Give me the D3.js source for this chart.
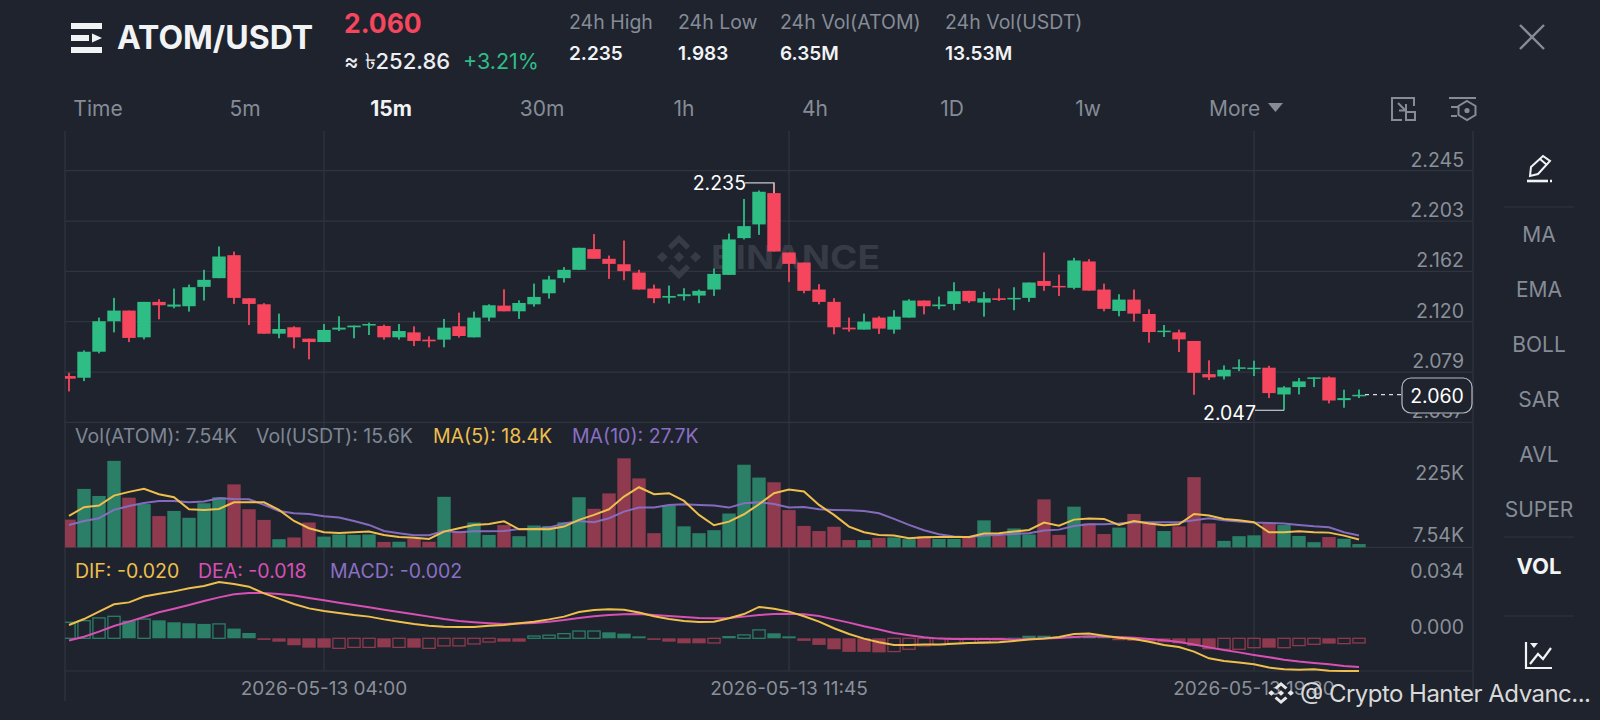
<!DOCTYPE html>
<html><head><meta charset="utf-8">
<script src="https://cdn.jsdelivr.net/npm/d3@7"></script>
<style>html,body{margin:0;padding:0;background:#1e232d;overflow:hidden}svg{display:block}text{font-family:Inter,"Noto Sans",sans-serif}</style>
</head><body><svg id="c" width="1600" height="720"></svg>
<script>
// ---------- data ----------
const opens=[2.0753,2.0739,2.0954,2.1206,2.1294,2.1073,2.1366,2.1327,2.1330,2.1490,2.1562,2.1752,2.1396,2.1346,2.1103,2.1156,2.1062,2.1034,2.1137,2.1156,2.1172,2.1167,2.1073,2.1114,2.1054,2.1054,2.1164,2.1073,2.1236,2.1335,2.1288,2.1346,2.1437,2.1562,2.1631,2.1802,2.1722,2.1677,2.1608,2.1476,2.1401,2.1413,2.1418,2.1468,2.1589,2.1893,2.2006,2.2265,2.1774,2.1691,2.1468,2.1366,2.1153,2.1137,2.1236,2.1137,2.1236,2.1377,2.1330,2.1349,2.1457,2.1360,2.1396,2.1388,2.1399,2.1539,2.1498,2.1482,2.1700,2.1468,2.1291,2.1385,2.1266,2.1120,2.1114,2.1043,2.0769,2.0750,2.0816,2.0814,2.0822,2.0601,2.0662,2.0737,2.0742,2.0554,2.0590];
const highs=[2.0780,2.0965,2.1236,2.1399,2.1294,2.1366,2.1388,2.1476,2.1509,2.1631,2.1824,2.1782,2.1396,2.1355,2.1269,2.1164,2.1062,2.1183,2.1247,2.1170,2.1194,2.1178,2.1183,2.1164,2.1081,2.1225,2.1277,2.1286,2.1346,2.1470,2.1379,2.1517,2.1581,2.1653,2.1813,2.1926,2.1749,2.1873,2.1631,2.1509,2.1501,2.1479,2.1468,2.1642,2.1931,2.2216,2.2287,2.2350,2.1774,2.1691,2.1512,2.1396,2.1236,2.1269,2.1247,2.1297,2.1388,2.1377,2.1410,2.1528,2.1457,2.1448,2.1476,2.1487,2.1526,2.1774,2.1592,2.1730,2.1719,2.1517,2.1429,2.1468,2.1305,2.1175,2.1137,2.1043,2.0883,2.0841,2.0891,2.0880,2.0838,2.0670,2.0737,2.0742,2.0750,2.0640,2.0642];
const lows=[2.0626,2.0711,2.0941,2.1114,2.1034,2.1056,2.1222,2.1313,2.1286,2.1377,2.1562,2.1349,2.1175,2.1103,2.1065,2.0982,2.0891,2.1034,2.1125,2.1065,2.1092,2.1054,2.1054,2.1001,2.0990,2.0990,2.1070,2.1073,2.1206,2.1288,2.1225,2.1327,2.1393,2.1526,2.1631,2.1722,2.1556,2.1545,2.1468,2.1355,2.1352,2.1377,2.1355,2.1415,2.1589,2.1882,2.1920,2.1782,2.1531,2.1437,2.1346,2.1098,2.1120,2.1137,2.1101,2.1103,2.1236,2.1263,2.1305,2.1297,2.1357,2.1244,2.1374,2.1297,2.1366,2.1457,2.1415,2.1470,2.1459,2.1288,2.1247,2.1203,2.1029,2.1076,2.0952,2.0598,2.0720,2.0725,2.0794,2.0753,2.0571,2.0470,2.0601,2.0662,2.0527,2.0491,2.0571];
const closes=[2.0731,2.0954,2.1206,2.1294,2.1068,2.1366,2.1338,2.1344,2.1487,2.1548,2.1741,2.1399,2.1349,2.1103,2.1142,2.1073,2.1034,2.1134,2.1153,2.1170,2.1183,2.1073,2.1125,2.1043,2.1040,2.1153,2.1084,2.1236,2.1338,2.1288,2.1357,2.1407,2.1551,2.1631,2.1813,2.1722,2.1680,2.1620,2.1468,2.1396,2.1415,2.1429,2.1457,2.1597,2.1882,2.1992,2.2276,2.1782,2.1680,2.1457,2.1366,2.1156,2.1139,2.1203,2.1145,2.1244,2.1377,2.1330,2.1344,2.1454,2.1371,2.1396,2.1382,2.1399,2.1526,2.1498,2.1487,2.1708,2.1459,2.1308,2.1385,2.1269,2.1117,2.1128,2.1056,2.0780,2.0742,2.0805,2.0825,2.0822,2.0612,2.0659,2.0709,2.0742,2.0551,2.0571,2.0598];
const volumes=[64.7,136.5,120,202,116,101,73,85,69,103,117,147,89,64,19,23,58,25,30,29,30,12.5,13,19.5,13,118,37,58,29,52,26,51,50,58.5,117,90,126,208,161,33,97.5,49,33,40,79,193,163,152,87,50,38,48,17,17,22,23,19,26,19.5,19.5,23,63,26.5,44,30,112,29,95,56,31,46,78,58.5,38,49,164,56,15,26,28,56,52,26.5,12,24,20,7.54];
const ma5=[73.3,93.6,97.5,120.9,129.5,136.5,124,117,88.9,87.4,89.7,105.3,105.3,105.3,87.4,61.6,44.5,35.1,33.5,35.1,36.7,28.9,24.2,22.6,19.5,36.7,44.5,52.3,54.6,60.8,42.1,42.9,42.1,48.4,64,75.7,88.9,118.6,140.4,124,126.4,108.4,75.7,51.5,60,77.2,100.6,126.4,134.9,130.3,99.1,75.7,48.4,35.1,28.9,27.3,21.1,23.4,24.2,24.2,24.2,32,32.8,36.7,40.6,57.7,50.7,64.7,67.1,66.3,52.3,61.6,55.4,51.5,53.8,78,74.1,66.3,63.2,58.5,35.1,35.1,37.4,35.1,34.3,27.3,18.4];
const ma10=[52.3,61.6,67.9,87.4,96.7,103.7,108.4,108.4,105.3,106.9,114.7,113.1,112.3,99.1,85,79.6,78,72.5,69.4,61.6,52.3,38.2,32.8,28.1,28.1,38.2,35.1,37.4,37.4,38.2,42.9,42.9,46,55.4,61.6,58.5,67.9,83.5,92.8,92.8,99.1,100.6,99.1,97.5,92.8,103,105.3,101.4,92.8,94.4,88.9,87.4,86.6,85,79.6,66.3,52.3,39.8,30.4,25,23.4,27.3,28.9,31.2,32.8,39,41.3,49.9,53.8,53.8,55.4,58.5,58.5,58.5,58.5,63.2,67.9,63.2,60,57.7,56.9,55.4,52.3,49.1,46.8,35.1,27.7];
const dif=[.0082,.0119,.0165,.0210,.0222,.0258,.0276,.0290,.0309,.0323,.0348,.0336,.0319,.0278,.0245,.0212,.0185,.0169,.0157,.0144,.0134,.0117,.0103,.0089,.0078,.0072,.0070,.0070,.0078,.0082,.0093,.0103,.0117,.0134,.0163,.0175,.0179,.0177,.0159,.0136,.0119,.0107,.0101,.0103,.0124,.0150,.0194,.0183,.0165,.0136,.0103,.0062,.0027,-.0002,-.0025,-.0041,-.0041,-.0039,-.0039,-.0033,-.0029,-.0027,-.0025,-.0016,-.0008,-.0002,.0008,.0027,.0029,.0016,.0004,-.0004,-.0021,-.0041,-.0054,-.0082,-.0124,-.0140,-.0150,-.0161,-.0181,-.0192,-.0194,-.0192,-.0200,-.0202,-.0202];
const dea=[-.0014,.0010,.0041,.0076,.0103,.0132,.0161,.0183,.0206,.0231,.0253,.0272,.0280,.0280,.0274,.0264,.0249,.0235,.0220,.0206,.0192,.0177,.0163,.0148,.0134,.0119,.0107,.0099,.0093,.0089,.0091,.0095,.0103,.0113,.0126,.0136,.0144,.0148,.0150,.0144,.0138,.0132,.0126,.0124,.0126,.0134,.0144,.0150,.0152,.0148,.0138,.0117,.0097,.0074,.0054,.0033,.0019,.0006,-.0002,-.0004,-.0004,-.0004,-.0004,-.0008,-.0004,-.0002,.0002,.0008,.0012,.0010,.0008,.0004,-.0004,-.0012,-.0023,-.0039,-.0056,-.0072,-.0087,-.0103,-.0117,-.0132,-.0144,-.0152,-.0161,-.0171,-.0177];
const macdHist=[.0099,.0109,.0126,.0136,.0109,.0119,.0111,.0099,.0093,.0089,.0089,.0060,.0033,-.0010,-.0021,-.0043,-.0058,-.0058,-.0062,-.0056,-.0056,-.0056,-.0056,-.0058,-.0062,-.0047,-.0047,-.0035,-.0023,-.0021,-.0021,.0014,.0019,.0029,.0045,.0045,.0037,.0029,.0012,-.0010,-.0021,-.0031,-.0031,-.0029,.0014,.0021,.0052,.0031,.0012,-.0016,-.0041,-.0068,-.0084,-.0084,-.0087,-.0082,-.0068,-.0047,-.0041,-.0031,-.0027,-.0021,-.0010,.0004,.0016,.0016,.0010,.0012,.0012,.0006,-.0012,-.0016,-.0021,-.0025,-.0031,-.0047,-.0068,-.0068,-.0068,-.0058,-.0058,-.0058,-.0045,-.0037,-.0033,-.0033,-.0029];
const histHollow=[0,1,2,3,5,10,18,19,20,22,24,25,26,27,28,31,32,33,34,35,43,45,46,55,56,57,58,59,60,61,62,77,78,79,81,82,83,85,86];
const priceTicks=[2.245,2.2034,2.1618,2.1202,2.0786,2.037];
const timeTicks=[{i:17,label:"2026-05-13 04:00"},{i:48,label:"2026-05-13 11:45"},{i:79,label:"2026-05-13 19:30"}];
const stats=[["24h High","2.235",569],["24h Low","1.983",678],["24h Vol(ATOM)","6.35M",780],["24h Vol(USDT)","13.53M",945]];
const tabs=[["Time",98],["5m",245],["15m",391],["30m",542],["1h",684],["4h",815],["1D",952],["1w",1088]];
const sideItems=[["MA",235],["EMA",290],["BOLL",345],["SAR",400],["AVL",455],["SUPER",510]];
const lastPrice=2.060;

// ---------- palette ----------
const BG="#1e232d",GRID="#2f343e",UP="#2ebd85",DOWN="#f6465d",VUP="#2a7f66",VDOWN="#8f3a4e",GREY="#868c97",AXIS="#8b9099",MA5="#efbf4d",MA10="#8a6fc4",PINK="#d850b4";

const svg=d3.select("#c");
svg.append("rect").attr("width",1600).attr("height",720).attr("fill",BG);
const defs=svg.append("defs");
defs.append("clipPath").attr("id","plot").append("rect").attr("x",65).attr("y",130).attr("width",1408).attr("height",545);

// ---------- scales ----------
const idx=d3.range(closes.length);
const x=d3.scaleLinear().domain([0,86]).range([69,1359]);
const y=d3.scaleLinear().domain([2.037,2.245]).range([422.4,170.7]);
const yVol=d3.scaleLinear().domain([0,208]).range([547.3,458.3]);
const yMacd=d3.scaleLinear().domain([0,0.034]).range([638.3,583.3]);
const bw=13.4;

// ---------- grid ----------
const grid=svg.append("g").attr("stroke",GRID).attr("stroke-width",1.2);
priceTicks.forEach(t=>grid.append("line").attr("x1",65).attr("x2",1473).attr("y1",y(t)).attr("y2",y(t)));
[yVol(0),671].forEach(v=>grid.append("line").attr("x1",65).attr("x2",1473).attr("y1",v).attr("y2",v));
timeTicks.forEach(t=>grid.append("line").attr("x1",x(t.i)).attr("x2",x(t.i)).attr("y1",131).attr("y2",671));
[65,1473].forEach(v=>grid.append("line").attr("x1",v).attr("x2",v).attr("y1",131).attr("y2",701));

// ---------- logo ----------
function logo(g,cx,cy,s,fill,sy){
  const n=g.append("g").attr("transform",`translate(${cx},${cy}) scale(${s},${sy||s})`).attr("fill",fill);
  n.append("path").attr("d","M0,-4.2L4.2,0L0,4.2L-4.2,0Z");
  n.append("path").attr("d","M-13,-4.2L-8.8,0L-13,4.2L-17.5,0Z");
  n.append("path").attr("d","M13,-4.2L8.8,0L13,4.2L17.5,0Z");
  n.append("path").attr("d","M0,-17.5L8.8,-8.7L5.8,-5.7L0,-11.5L-5.8,-5.7L-8.8,-8.7Z");
  n.append("path").attr("d","M0,17.5L8.8,8.7L5.8,5.7L0,11.5L-5.8,5.7L-8.8,8.7Z");
}
logo(svg,679,257,1.27,"#363b46");
svg.append("text").attr("x",711).attr("y",269).attr("font-size",33).attr("font-weight",700).attr("fill","#363b46").attr("textLength",169).attr("lengthAdjust","spacingAndGlyphs").text("BINANCE");

const plot=svg.append("g").attr("clip-path","url(#plot)");

// ---------- volume ----------
plot.append("g").selectAll("rect").data(idx).join("rect")
 .attr("x",i=>x(i)-bw/2).attr("width",bw)
 .attr("y",i=>yVol(volumes[i])).attr("height",i=>yVol(0)-yVol(volumes[i]))
 .attr("fill",i=>closes[i]>=opens[i]?VUP:VDOWN);
const line=(sc)=>d3.line().x((d,i)=>x(i)).y(d=>sc(d)).curve(d3.curveLinear);
plot.append("path").attr("d",line(yVol)(ma10)).attr("fill","none").attr("stroke",MA10).attr("stroke-width",2).attr("stroke-opacity",.95);
plot.append("path").attr("d",line(yVol)(ma5)).attr("fill","none").attr("stroke",MA5).attr("stroke-width",2);

// ---------- MACD ----------
plot.append("g").selectAll("rect").data(idx).join("rect")
 .attr("x",i=>x(i)-bw/2+(histHollow.includes(i)?.6:0))
 .attr("width",i=>bw-(histHollow.includes(i)?1.2:0))
 .attr("y",i=>Math.min(yMacd(macdHist[i]),yMacd(0)))
 .attr("height",i=>Math.abs(yMacd(macdHist[i])-yMacd(0)))
 .attr("fill",i=>histHollow.includes(i)?"none":(macdHist[i]>=0?VUP:VDOWN))
 .attr("stroke",i=>histHollow.includes(i)?(macdHist[i]>=0?VUP:VDOWN):"none")
 .attr("stroke-width",1.3);
plot.append("path").attr("d",line(yMacd)(dea)).attr("fill","none").attr("stroke",PINK).attr("stroke-width",2);
plot.append("path").attr("d",line(yMacd)(dif)).attr("fill","none").attr("stroke",MA5).attr("stroke-width",2);

// ---------- candles ----------
const cg=plot.append("g").selectAll("g").data(idx).join("g").attr("fill",i=>closes[i]>=opens[i]?UP:DOWN);
cg.append("rect").attr("x",i=>x(i)-.9).attr("width",1.8).attr("y",i=>y(highs[i])).attr("height",i=>y(lows[i])-y(highs[i]));
cg.append("rect").attr("x",i=>x(i)-bw/2).attr("width",bw)
 .attr("y",i=>y(Math.max(opens[i],closes[i])))
 .attr("height",i=>Math.max(1.5,Math.abs(y(opens[i])-y(closes[i]))));

// ---------- price axis labels ----------
svg.append("g").selectAll("text").data(priceTicks).join("text")
 .attr("x",1464).attr("y",d=>y(d)-4).attr("text-anchor","end").attr("font-size",19.5).attr("fill",AXIS).text(d=>d.toFixed(3));
[["225K",480],["7.54K",542],["0.034",578],["0.000",634]].forEach(([t,b])=>
 svg.append("text").attr("x",1464).attr("y",b).attr("text-anchor","end").attr("font-size",19.5).attr("fill",AXIS).text(t));

// ---------- last price ----------
svg.append("line").attr("x1",x(86)+6).attr("x2",1401).attr("y1",y(lastPrice)).attr("y2",y(lastPrice)).attr("stroke","#d8dade").attr("stroke-width",1.2).attr("stroke-dasharray","4 4");
svg.append("rect").attr("x",1402).attr("y",378).attr("width",70).attr("height",35).attr("rx",9).attr("fill",BG).attr("stroke","#b9bcc2").attr("stroke-width",1.2);
svg.append("text").attr("x",1437).attr("y",403).attr("text-anchor","middle").attr("font-size",19.5).attr("fill","#fff").text(lastPrice.toFixed(3));

// ---------- hi/lo annotations ----------
const ann=(i,v,ytext)=>{
  const px=x(i),py=y(v);
  svg.append("path").attr("d",`M${px-29},${py}H${px}`+(i===47?`V${y(opens[47])}`:"")).attr("fill","none").attr("stroke","#c6c9ce").attr("stroke-width",1.2);
  svg.append("text").attr("x",px-28).attr("y",ytext).attr("text-anchor","end").attr("font-size",19.5).attr("fill","#fff").text(v.toFixed(3));
};
ann(47,highs[47],190);
ann(81,lows[81],420);

// ---------- time labels ----------
svg.append("g").selectAll("text").data(timeTicks).join("text")
 .attr("x",d=>x(d.i)).attr("y",695).attr("text-anchor","middle").attr("font-size",19).attr("fill",AXIS).text(d=>d.label);

// ---------- panel legends ----------
const leg=(t,xx,yy,c)=>svg.append("text").attr("x",xx).attr("y",yy).attr("font-size",19.5).attr("fill",c).text(t);
leg("Vol(ATOM): 7.54K",75,443,"#7f8794");leg("Vol(USDT): 15.6K",256,443,"#7f8794");
leg("MA(5): 18.4K",433,443,MA5);leg("MA(10): 27.7K",572,443,MA10);
leg("DIF: -0.020",75,578,MA5);leg("DEA: -0.018",198,578,PINK);leg("MACD: -0.002",330,578,MA10);

// ---------- header ----------
const hdr=svg.append("g");
hdr.append("path").attr("fill","#f2f3f5").attr("d","M71,23H102V29H71ZM71,35H89V41H71ZM71,47H102V53H71ZM92,33.5L102,38L92,42.5Z");
hdr.append("text").attr("x",117).attr("y",49).attr("font-size",32).attr("font-weight",700).attr("fill","#f2f3f5").text("ATOM/USDT");
hdr.append("text").attr("x",344).attr("y",33).attr("font-size",26.5).attr("font-weight",700).attr("fill",DOWN).text("2.060");
hdr.append("text").attr("x",344).attr("y",69).attr("font-size",22).attr("font-weight",500).attr("fill","#eceef1").text("≈ ৳252.86");
hdr.append("text").attr("x",463).attr("y",69).attr("font-size",21.5).attr("fill",UP).text("+3.21%");
stats.forEach(([a,b,xx])=>{
  hdr.append("text").attr("x",xx).attr("y",29).attr("font-size",19.5).attr("fill",GREY).text(a);
  hdr.append("text").attr("x",xx).attr("y",60).attr("font-size",19).attr("font-weight",600).attr("fill","#f2f3f5").text(b);
});
tabs.forEach(([t,c])=>hdr.append("text").attr("x",c).attr("y",116).attr("text-anchor","middle").attr("font-size",21)
  .attr("font-weight",t==="15m"?700:400).attr("fill",t==="15m"?"#f2f3f5":GREY).text(t));
hdr.append("text").attr("x",1209).attr("y",116).attr("font-size",21).attr("fill",GREY).text("More");
hdr.append("path").attr("d","M1268,103H1283L1275.5,112Z").attr("fill",GREY);
// expand and settings icons
const ic=hdr.append("g").attr("fill","none").attr("stroke",GREY).attr("stroke-width",2);
ic.append("path").attr("d","M1402,120H1392V98H1414V106");
ic.append("path").attr("d","M1398,103L1406,111M1399,110.5H1406V104");
ic.append("rect").attr("x",1406).attr("y",112).attr("width",9).attr("height",8);
ic.append("path").attr("d","M1449,98H1476M1451,107H1459M1451,116H1457");
ic.append("path").attr("d","M1467,101L1475.5,106V115L1467,120L1458.5,115V106Z");
ic.append("circle").attr("cx",1467).attr("cy",110.5).attr("r",1.6).attr("fill",GREY);
// close
hdr.append("path").attr("d","M1520,25L1544,49M1544,25L1520,49").attr("stroke",GREY).attr("stroke-width",2.4).attr("fill","none");

// ---------- side toolbar ----------
const side=svg.append("g");
const pen=side.append("g").attr("fill","none").attr("stroke","#f2f3f5").attr("stroke-width",2);
pen.append("path").attr("d","M1531,167L1543,156L1550,161L1538,174L1530,176Z");
pen.append("path").attr("d","M1540,159L1547,165");
pen.append("path").attr("d","M1527,181H1548").attr("stroke-width",2.6);
pen.append("path").attr("d","M1550,181H1552").attr("stroke-width",2.6);
side.append("line").attr("x1",1504).attr("x2",1574).attr("y1",207).attr("y2",207).attr("stroke",GRID);
sideItems.forEach(([t,c])=>side.append("text").attr("x",1539).attr("y",c+7).attr("text-anchor","middle").attr("font-size",21).attr("fill",GREY).text(t));
side.append("line").attr("x1",1504).attr("x2",1574).attr("y1",537).attr("y2",537).attr("stroke",GRID);
side.append("text").attr("x",1539).attr("y",574).attr("text-anchor","middle").attr("font-size",22).attr("font-weight",700).attr("fill","#f2f3f5").text("VOL");
side.append("line").attr("x1",1504).attr("x2",1574).attr("y1",616).attr("y2",616).attr("stroke",GRID);
const ci=side.append("g").attr("fill","none").attr("stroke","#f2f3f5").attr("stroke-width",2.2);
ci.append("path").attr("d","M1526,642V668H1552");
ci.append("path").attr("d","M1530,664L1538,654L1543,659L1551,648");
side.append("path").attr("d","M1530,643H1538L1534,648Z").attr("fill","#f2f3f5");

// ---------- footer watermark ----------
logo(svg,1281,693,0.74,"#e8e8e8",0.63);
svg.append("text").attr("x",1300).attr("y",702).attr("font-size",24).attr("font-family","'Open Sans'").attr("fill","#d9d9d9").attr("textLength",291).attr("lengthAdjust","spacing").text("@ Crypto Hanter Advanc...");
</script></body></html>
